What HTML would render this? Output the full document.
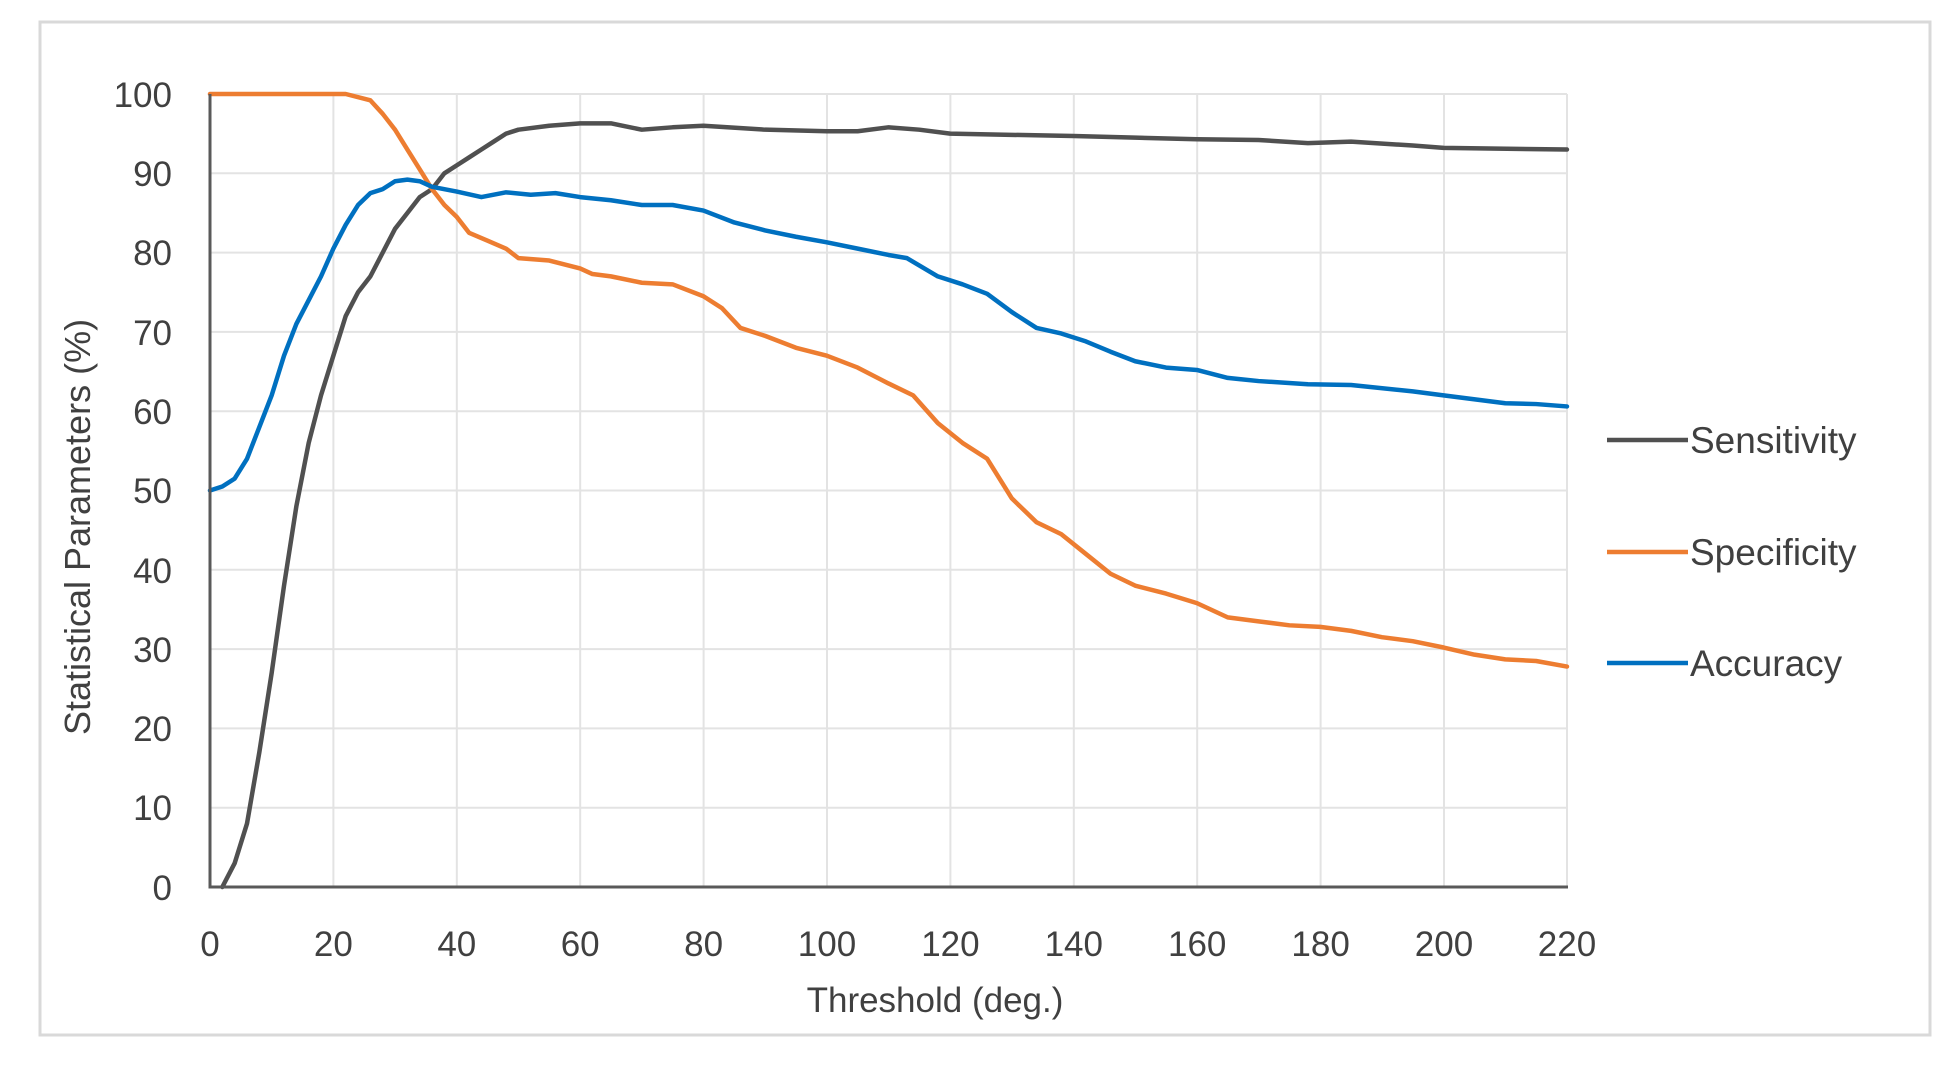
<!DOCTYPE html>
<html><head><meta charset="utf-8"><style>
html,body{margin:0;padding:0;background:#fff;}
svg{display:block;}
text{font-family:"Liberation Sans",sans-serif;fill:#404040;}
</style></head><body>
<svg width="1958" height="1065" viewBox="0 0 1958 1065" xmlns="http://www.w3.org/2000/svg">
<rect x="0" y="0" width="1958" height="1065" fill="#fff"/>
<rect x="40" y="22" width="1890" height="1013" fill="#fff" stroke="#d9d9d9" stroke-width="3"/>
<g stroke="#e3e3e3" stroke-width="2">
<line x1="210" y1="94" x2="1567" y2="94"/><line x1="210" y1="173.3" x2="1567" y2="173.3"/>
<line x1="210" y1="252.6" x2="1567" y2="252.6"/><line x1="210" y1="331.9" x2="1567" y2="331.9"/>
<line x1="210" y1="411.2" x2="1567" y2="411.2"/><line x1="210" y1="490.5" x2="1567" y2="490.5"/>
<line x1="210" y1="569.8" x2="1567" y2="569.8"/><line x1="210" y1="649.1" x2="1567" y2="649.1"/>
<line x1="210" y1="728.4" x2="1567" y2="728.4"/><line x1="210" y1="807.7" x2="1567" y2="807.7"/>
<line x1="333.4" y1="94" x2="333.4" y2="887"/><line x1="456.8" y1="94" x2="456.8" y2="887"/>
<line x1="580.2" y1="94" x2="580.2" y2="887"/><line x1="703.6" y1="94" x2="703.6" y2="887"/>
<line x1="827" y1="94" x2="827" y2="887"/><line x1="950.4" y1="94" x2="950.4" y2="887"/>
<line x1="1073.8" y1="94" x2="1073.8" y2="887"/><line x1="1197.2" y1="94" x2="1197.2" y2="887"/>
<line x1="1320.6" y1="94" x2="1320.6" y2="887"/><line x1="1444" y1="94" x2="1444" y2="887"/>
<line x1="1567" y1="94" x2="1567" y2="887"/>
</g>
<g transform="translate(210,887) scale(6.168,-7.93)" fill="none" stroke-linejoin="round" stroke-linecap="round">
<polyline vector-effect="non-scaling-stroke" stroke="#505050" stroke-width="4.5" points="2,0 4,3 6,8 8,17 10,27 12,38 14,48 16,56 18,62 20,67 22,72 24,75 26,77 28,80 30,83 32,85 34,87 36,88 38,90 40,91 42,92 44,93 46,94 48,95 50,95.5 55,96 60,96.3 65,96.3 70,95.5 75,95.8 80,96 90,95.5 100,95.3 105,95.3 110,95.8 115,95.5 120,95 140,94.7 150,94.5 160,94.3 170,94.2 178,93.8 185,94 195,93.5 200,93.2 220,93"/>
<polyline vector-effect="non-scaling-stroke" stroke="#ED7D31" stroke-width="4.5" points="0,100 22,100 26,99.2 28,97.5 30,95.5 32,93 34,90.5 36,88 38,86 40,84.5 42,82.5 45,81.5 48,80.5 50,79.3 55,79 60,78 62,77.3 65,77 70,76.2 75,76 80,74.5 83,73 86,70.5 90,69.5 95,68 100,67 105,65.5 110,63.5 114,62 118,58.5 122,56 126,54 130,49 134,46 138,44.5 142,42 146,39.5 150,38 155,37 160,35.8 165,34 170,33.5 175,33 180,32.8 185,32.3 190,31.5 195,31 200,30.2 205,29.3 210,28.7 215,28.5 220,27.8"/>
<polyline vector-effect="non-scaling-stroke" stroke="#0070C0" stroke-width="4.5" points="0,50 2,50.5 4,51.5 6,54 8,58 10,62 12,67 14,71 16,74 18,77 20,80.5 22,83.5 24,86 26,87.5 28,88 30,89 32,89.2 34,89 36,88.3 40,87.7 44,87 48,87.6 52,87.3 56,87.5 60,87 65,86.6 70,86 75,86 80,85.3 85,83.8 90,82.8 95,82 100,81.3 105,80.5 110,79.7 113,79.3 118,77 122,76 126,74.8 130,72.5 134,70.5 138,69.8 142,68.8 146,67.5 150,66.3 155,65.5 160,65.2 165,64.2 170,63.8 178,63.4 185,63.3 195,62.5 200,62 210,61 215,60.9 220,60.6"/>
</g>
<g stroke="#595959" stroke-width="3">
<line x1="210" y1="94" x2="210" y2="887"/><line x1="208.5" y1="887" x2="1568" y2="887"/>
</g>
<g font-size="35" text-anchor="end">
<text x="172" y="107">100</text><text x="172" y="186">90</text><text x="172" y="265">80</text>
<text x="172" y="345">70</text><text x="172" y="424">60</text><text x="172" y="503">50</text>
<text x="172" y="583">40</text><text x="172" y="662">30</text><text x="172" y="741">20</text>
<text x="172" y="820">10</text><text x="172" y="900">0</text>
</g>
<g font-size="35" text-anchor="middle">
<text x="210" y="956">0</text><text x="333.4" y="956">20</text><text x="456.8" y="956">40</text>
<text x="580.2" y="956">60</text><text x="703.6" y="956">80</text><text x="827" y="956">100</text>
<text x="950.4" y="956">120</text><text x="1073.8" y="956">140</text><text x="1197.2" y="956">160</text>
<text x="1320.6" y="956">180</text><text x="1444" y="956">200</text><text x="1567" y="956">220</text>
</g>
<text x="935" y="1012" font-size="35" text-anchor="middle">Threshold (deg.)</text>
<text transform="translate(90,527) rotate(-90)" font-size="36" text-anchor="middle">Statistical Parameters (%)</text>
<g stroke-width="4.5">
<line x1="1607" y1="440" x2="1688" y2="440" stroke="#505050"/>
<line x1="1607" y1="552" x2="1688" y2="552" stroke="#ED7D31"/>
<line x1="1607" y1="663" x2="1688" y2="663" stroke="#0070C0"/>
</g>
<g font-size="37">
<text x="1690" y="453">Sensitivity</text>
<text x="1690" y="565">Specificity</text>
<text x="1690" y="676">Accuracy</text>
</g>
</svg>
</body></html>
